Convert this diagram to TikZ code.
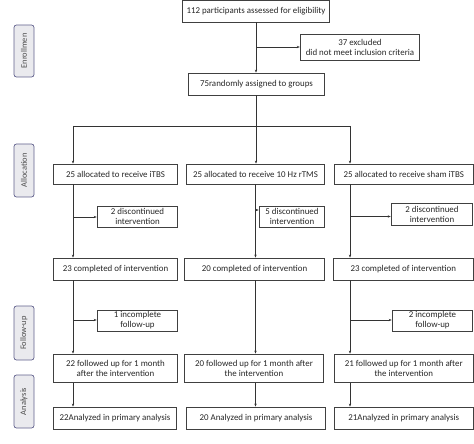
\documentclass[tikz,border=0pt]{standalone}
\usepackage{fontspec}
\setmainfont{Carlito}
\usetikzlibrary{arrows.meta}
\begin{document}
\begin{tikzpicture}[x=1bp,y=-1bp,
  box/.style={draw=black!75,line width=0.9bp,inner sep=0pt,align=center,font=\fontsize{8.9bp}{10bp}\selectfont,text=black!85},
  side/.style={draw=black!30!blue!25!gray,fill=blue!10!gray!15,rounded corners=2.5bp,line width=0.7bp,inner sep=0pt,
    font=\fontsize{8.4bp}{9bp}\selectfont,text=black!70},
  conn/.style={draw=black!80,line width=0.8bp},
  arr/.style={conn,-{Stealth[length=3bp,width=2.4bp]}}]
\useasboundingbox (0,0) rectangle (474,444);
\newcommand{\bx}[6]{\node[box,minimum width={#3-#2},minimum height={#5-#4}] (#1) at ({(#2+#3)/2},{(#4+#5)/2}) {#6};}
% side labels
\node[side,minimum width=20bp,minimum height=52bp] (s1) at (24,51) {\rotatebox{90}{Enrollmen}};
\node[side,minimum width=20bp,minimum height=53bp] (s2) at (24,170.5) {\rotatebox{90}{Allocation}};
\node[side,minimum width=20bp,minimum height=54bp] (s3) at (24,333) {\rotatebox{90}{Follow-up}};
\node[side,minimum width=20bp,minimum height=53bp] (s4) at (24,401.5) {\rotatebox{90}{Analysis}};
% enrollment
\bx{t}{182}{330}{0.5}{22}{112 participants assessed for eligibility}
\bx{ex}{300}{420}{34}{61}{37 excluded\\ did not meet inclusion criteria}
\bx{r}{188}{325}{73}{95}{75randomly assigned to groups}
% allocation row
\bx{a1}{53}{178}{164}{184}{25 allocated to receive iTBS}
\bx{a2}{186}{325}{164}{184}{25 allocated to receive 10 Hz rTMS}
\bx{a3}{334}{473.5}{164}{184}{25 allocated to receive sham iTBS}
\bx{d1}{97}{178}{206}{227}{2 discontinued\\ intervention}
\bx{d2}{259}{325}{206}{227}{5 discontinued\\ intervention}
\bx{d3}{391}{473}{203}{225}{2 discontinued\\ intervention}
\bx{c1}{53}{178}{258}{280}{23 completed of intervention}
\bx{c2}{184}{325}{258}{280}{20 completed of intervention}
\bx{c3}{333}{473.5}{258}{280}{23 completed of intervention}
\bx{i1}{97}{178}{310}{331}{1 incomplete\\ follow-up}
\bx{i3}{392}{473}{310}{331}{2 incomplete\\ follow-up}
\bx{f1}{53}{178}{354}{383}{22 followed up for 1 month\\ after the intervention}
\bx{f2}{184}{324}{354}{383}{20 followed up for 1 month after\\ the intervention}
\bx{f3}{334}{473.5}{354}{383}{21 followed up for 1 month after\\ the intervention}
\bx{n1}{53}{177}{407}{429}{22Analyzed in primary analysis}
\bx{n2}{186}{326}{407}{429}{20 Analyzed in primary analysis}
\bx{n3}{334}{473.5}{407}{429}{21Analyzed in primary analysis}
% coordinates
\coordinate (eb) at (256,47);
\coordinate (sp) at (256,126);
\coordinate (h1) at (73,126);
\coordinate (h3) at (350,126);
\coordinate (b1) at (73,217);
\coordinate (b2) at (255.5,210);
\coordinate (b3) at (350,216.5);
\coordinate (g1) at (73,320);
\coordinate (g3) at (350,320);
% connectors
\draw[arr] (t.south -| eb) -- (r.north -| eb);
\draw[arr] (eb) -- (eb -| ex.west);
\draw[conn] (r.south -| sp) -- (sp);
\draw[conn] (h1) -- (h3);
\draw[arr] (h1) -- (h1 |- a1.north);
\draw[arr] (sp) -- (sp |- a2.north);
\draw[arr] (h3) -- (h3 |- a3.north);
\draw[arr] (a1.south -| h1) -- (c1.north -| h1);
\draw[arr] (a2.south -| b2) -- (c2.north -| b2);
\draw[arr] (a3.south -| h3) -- (c3.north -| h3);
\draw[arr] (b1) -- (b1 -| d1.west);
\draw[arr] (b2) -- (b2 -| d2.west);
\draw[arr] (b3) -- (b3 -| d3.west);
\draw[arr] (c1.south -| h1) -- (f1.north -| h1);
\draw[arr] (c2.south -| b2) -- (f2.north -| b2);
\draw[arr] (c3.south -| h3) -- (f3.north -| h3);
\draw[arr] (g1) -- (g1 -| i1.west);
\draw[arr] (g3) -- (g3 -| i3.west);
\draw[arr] (f1.south -| h1) -- (n1.north -| h1);
\draw[arr] (f2.south -| b2) -- (n2.north -| b2);
\draw[arr] (f3.south -| h3) -- (n3.north -| h3);
\end{tikzpicture}
\end{document}
